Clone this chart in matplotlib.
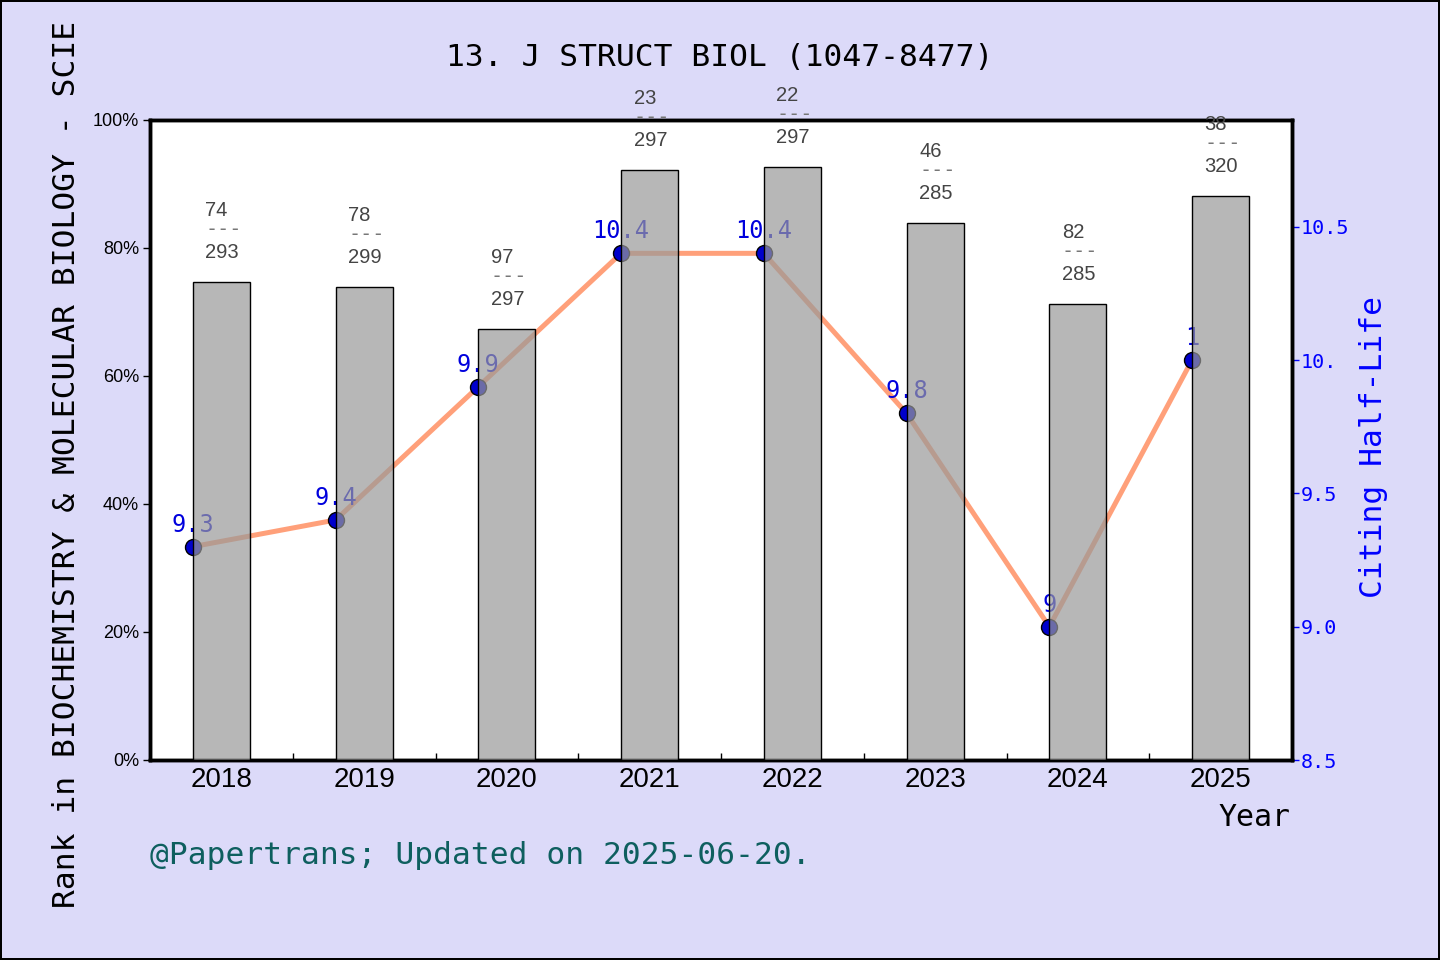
import numpy as np
import matplotlib
matplotlib.use("Agg")
import matplotlib.pyplot as plt

years = ['2018', '2019', '2020', '2021', '2022', '2023', '2024', '2025']
ranks = [74, 78, 97, 23, 22, 46, 82, 38]
totals = [293, 299, 297, 297, 297, 285, 285, 320]
half_life = [9.3, 9.4, 9.9, 10.4, 10.4, 9.8, 9.0, 10.0]
half_life_text = ['9.3', '9.4', '9.9', '10.4', '10.4', '9.8', '9', '1']

pct = [(t - r) / t * 100 for r, t in zip(ranks, totals)]
x = np.arange(len(years))

mono = 'DejaVu Sans Mono'
sans = 'Liberation Sans'

fig = plt.figure(figsize=(14.4, 9.6), dpi=100)
fig.patch.set_facecolor('#DCDAF9')
fig.patch.set_edgecolor('black')
fig.patch.set_linewidth(1.5)

ax = fig.add_axes([150/1440, 200/960, 1142/1440, 640/960])
ax2 = ax.twinx()
# bars sit on top of the line, semi transparent
ax.set_zorder(ax2.get_zorder() + 1)
ax.patch.set_visible(False)
ax2.patch.set_visible(True)
ax2.patch.set_facecolor('white')

# half-life line on the right axis
ax2.plot(x - 0.2, half_life, color='#FFA07A', lw=3.6, zorder=2)
ax2.plot(x - 0.2, half_life, 'o', color='#0000CC', mec='black', mew=1, ms=11.5, zorder=3)
for xi, v, s in zip(x, half_life, half_life_text):
    ax2.annotate(s, (xi - 0.2, v), xytext=(0, 10), textcoords='offset pixels',
                 ha='center', va='bottom', color='#0000DD', fontsize=17, family=mono)
ax2.set_ylim(8.5, 10.9)
ax2.set_yticks([8.5, 9.0, 9.5, 10.0, 10.5])
ax2.set_yticklabels(['8.5', '9.0', '9.5', '10.', '10.5'])
ax2.tick_params(axis='y', colors='blue', labelsize=14.5, length=5, width=1, pad=1)
for lab in ax2.get_yticklabels():
    lab.set_family(mono)

# rank bars on the left axis
ax.bar(x, pct, width=0.4, color=(0.6, 0.6, 0.6, 0.7), edgecolor='black', linewidth=1, zorder=5)
for xi, p, r, t in zip(x, pct, ranks, totals):
    kw = dict(textcoords='offset pixels', va='baseline', zorder=10, annotation_clip=False)
    ax.annotate(str(t), (xi, p), xytext=(-16, 24), ha='left', color='#444444',
                fontsize=14.5, family=sans, **kw)
    ax.annotate('---', (xi, p), xytext=(-16, 47), ha='left', color='#777777',
                fontsize=14.5, family=mono, **kw)
    ax.annotate(str(r), (xi, p), xytext=(-16, 66), ha='left', color='#444444',
                fontsize=14.5, family=sans, **kw)

ax.set_xlim(-0.5, len(years) - 0.5)
ax.set_ylim(0, 100)
ax.set_xticks(x)
ax.set_xticklabels(years, fontsize=20, family=sans)
ax.set_xticks(x[:-1] + 0.5, minor=True)
ax.tick_params(axis='x', which='major', length=0, pad=5)
ax.tick_params(axis='x', which='minor', direction='in', length=5, width=1)
ax.set_yticks([0, 20, 40, 60, 80, 100])
ax.set_yticklabels(['0%', '20%', '40%', '60%', '80%', '100%'], fontsize=13, family=sans)
ax.tick_params(axis='y', length=5, width=1, pad=3)

for a in (ax, ax2):
    for sp in a.spines.values():
        sp.set_linewidth(2.5)

fig.text(0.5, 1 - 57/960, '13. J STRUCT BIOL (1047-8477)', ha='center', va='center',
         fontsize=22.5, family=mono)
fig.text(67/1440, 1 - 464/960, 'Rank in BIOCHEMISTRY & MOLECULAR BIOLOGY - SCIE',
         rotation=90, ha='center', va='center', fontsize=22.5, family=mono)
fig.text(1373/1440, 1 - 447/960, 'Citing Half-Life', rotation=90, ha='center',
         va='center', fontsize=22.5, family=mono, color='blue')
fig.text(1290/1440, 1 - 817/960, 'Year', ha='right', va='center', fontsize=21.5, family=mono)
fig.text(150/1440, 1 - 855/960, '@Papertrans; Updated on 2025-06-20.', ha='left',
         va='center', fontsize=22.5, family=mono, color='#0E5F5F')

fig.savefig('out.png', dpi=100, facecolor=fig.get_facecolor(), edgecolor=fig.get_edgecolor())
